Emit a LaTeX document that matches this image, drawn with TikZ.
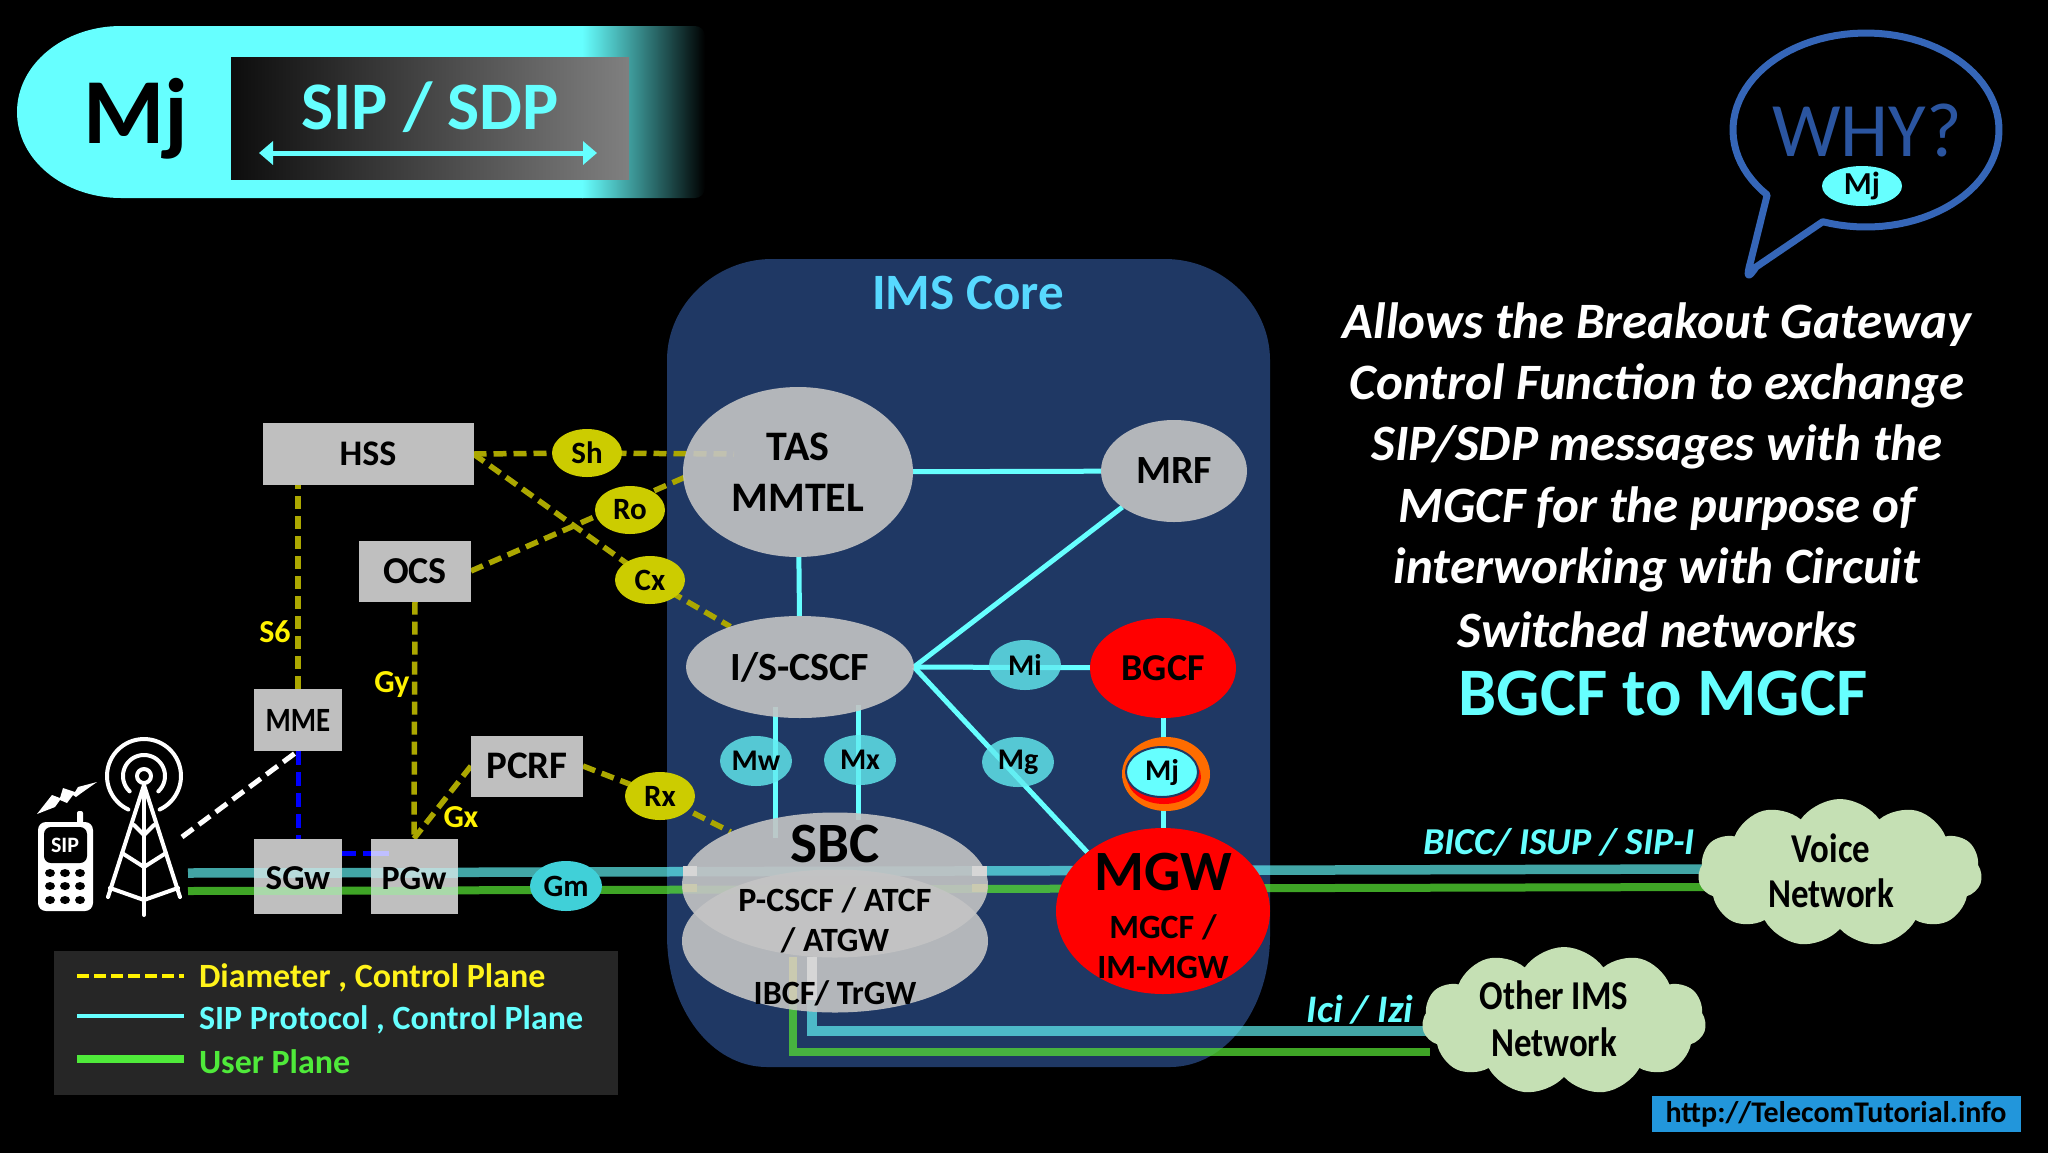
\documentclass[tikz,border=0pt]{standalone}
\usepackage{fontspec}
\setmainfont{Carlito}
\newfontfamily\narrowfont[FakeStretch=0.85]{Carlito}
\usetikzlibrary{shapes.geometric,shapes.symbols,arrows.meta,backgrounds,calc}
\newcommand{\fs}[1]{\fontsize{#1}{#1}\selectfont\bfseries}
\newcommand{\fsl}[2]{\fontsize{#1}{#2}\selectfont\bfseries}
\definecolor{sipcyan}{HTML}{66FFFF}
\definecolor{navypanel}{HTML}{1F3864}
\definecolor{boxgray}{HTML}{BFBFBF}
\definecolor{ovalgray}{HTML}{C4C4C4}
\definecolor{diamolive}{HTML}{ABA700}
\definecolor{yellowoval}{HTML}{CCCC00}
\definecolor{tealoval}{HTML}{63ECF0}
\definecolor{gmteal}{HTML}{40D0D8}
\definecolor{planegreen}{HTML}{55DD33}
\definecolor{cloudgreen}{HTML}{C5E0B4}
\definecolor{whyblue}{HTML}{3566B8}
\definecolor{whytext}{HTML}{2B55A0}
\begin{document}
\begin{tikzpicture}[
    x=1pt, y=-1pt,
    every node/.style={inner sep=0pt, outer sep=0pt, text=black},
    gbox/.style={rectangle, fill=boxgray, font=\fs{36}},
    goval/.style={ellipse, fill=ovalgray, fill opacity=0.9, text opacity=1, font=\fsl{42}{51}, align=center},
    redoval/.style={ellipse, fill=red},
    yoval/.style={ellipse, fill=yellowoval, minimum width=70, minimum height=48, font=\fs{31}},
    toval/.style={ellipse, fill=tealoval, fill opacity=0.8, text opacity=1, minimum width=72, minimum height=50, font=\fs{30}},
    netcloud/.style={cloud, fill=cloudgreen, cloud puffs=11, cloud puff arc=110},
    ifname/.style={text=yellow, font=\fs{32}},
    sideline/.style={text=white, font=\fontsize{51}{51}\selectfont\bfseries\itshape},
    legendtext/.style={anchor=west, font=\fs{34}},
    diam/.style={diamolive, line width=5.5pt, dash pattern=on 13pt off 7pt},
    siplink/.style={sipcyan, line width=5pt},
    sipband/.style={sipcyan, opacity=0.65, line width=9.5pt},
    greenband/.style={planegreen, opacity=0.75, line width=8pt},
    paleup/.style={draw=white!72!teal, line width=9.5pt},
    palelow/.style={draw=white!78!green!85!black, line width=8pt},
    icon/.style={white, line width=4pt, line cap=round, line join=round}
]
\useasboundingbox (0,0) rectangle (2048,1152);

% Header
\fill[sipcyan] (121,198) .. controls (64,198) and (17,160) .. (17,112) .. controls (17,64) and (64,26) .. (121,26) -- (583,26) -- (583,198) -- cycle;
\shade[left color=sipcyan, right color=black] (582,26) [rounded corners=10pt] -- (705,26) -- (705,198) [sharp corners] -- (582,198) -- cycle;
\shade[left color=black!95, right color=black!50] (231,57) rectangle (629,179);
\node[font=\fs{93}] (mjtitle) at (136,119) {Mj};
\node[text=sipcyan, font=\fs{68}] (siptitle) at (430,107) {SIP / SDP};
\coordinate (headleft) at (259,153);
\coordinate (headright) at (597,153);
\draw[sipcyan, line width=5pt, {Triangle[length=14pt,width=23pt]}-{Triangle[length=14pt,width=23pt]}] (headleft) -- (headright);

% Speech bubble
\draw[whyblue, line width=7pt, line join=round] (1756,267) -- plot[domain=109:-222, samples=90] ({1866+133*cos(\x)},{130+97*sin(\x)}) -- (1750.5,262) .. controls (1746,278) and (1748,279) .. (1756,267) -- cycle;
\node[text=whytext, font=\fontsize{77}{77}\selectfont] (why) at (1867,130) {WHY?};
\node[ellipse, fill=sipcyan, minimum width=80, minimum height=40, font=\fs{32}] (whymj) at (1862,186) {Mj};

% Explanation
\node[sideline] (ex1) at (1657,325) {Allows the Breakout Gateway};
\node[sideline] (ex2) at (1657,386) {Control Function to exchange};
\node[sideline] (ex3) at (1657,447) {SIP/SDP messages with the};
\node[sideline] (ex4) at (1657,509) {MGCF for the purpose of};
\node[sideline] (ex5) at (1657,570) {interworking with Circuit};
\node[sideline] (ex6) at (1657,630) {Switched networks};
\node[text=sipcyan, font=\fs{68}] (ex7) at (1663,693) {BGCF to MGCF};

% IMS core nodes
\node[text=sipcyan!85!blue, font=\fs{51}] (imscore) at (968,293) {IMS Core};
\node[goval, minimum width=230, minimum height=170] (tas) at (798,472) {TAS\\MMTEL};
\node[goval, minimum width=146, minimum height=102, font=\fs{40}] (mrf) at (1174,471) {MRF};
\node[goval, minimum width=228, minimum height=102, font=\fs{40}] (iscscf) at (800,667) {I/S-CSCF};
\node[redoval, minimum width=146, minimum height=100, font=\fs{38}] (bgcf) at (1163,668) {BGCF};
\node[goval, minimum width=306, minimum height=143] (sbclow) at (835,941) {};
\node[goval, minimum width=306, minimum height=145] (sbcup) at (835,885) {};
\node[redoval, minimum width=214, minimum height=166] (mgw) at (1163,911) {};

% Pale ends of the bands on the SBC
\draw[line width=9.5pt, draw=white!30!ovalgray] (683,871) -- ++(14,0);
\draw[line width=8pt, draw=ovalgray!90!yellow] (683,888) -- ++(14,0);
\draw[line width=9.5pt, draw=white!30!ovalgray] (972,871) -- ++(15,0);
\draw[line width=8pt, draw=ovalgray!90!yellow] (972,888) -- ++(15,0);
\draw[line width=9.5pt, draw=white!30!ovalgray] (812,957) -- (812,1000);
\draw[line width=8pt, draw=ovalgray!90!yellow] (793,957) -- (793,1000);
\node[font=\fs{57}] (sbctitle) at (835,844) {SBC};
\node[font=\fsl{34}{40}, align=center] (sbcsub) at (835,920) {P-CSCF / ATCF\\/ ATGW};
\node[font=\fs{34}] (sbcibcf) at (835,993) {IBCF/ TrGW};
\node[font=\fs{57}] (mgwtitle) at (1163,872) {MGW};
\node[font=\fsl{34}{40}, align=center] (mgwsub) at (1163,947) {MGCF /\\IM-MGW};

% Interface ovals
\node[toval] (mi) at (1025,665) {Mi};
\node[toval] (mw) at (756,761) {Mw};
\node[toval] (mx) at (860,760) {Mx};
\node[toval] (mg) at (1018,762) {Mg};
\node[ellipse, fill=orange!85!red, minimum width=88, minimum height=74] (mjring) at (1166,774) {};
\node[ellipse, fill=red, minimum width=74, minimum height=54] (mjred) at (1164,777) {};
\node[ellipse, draw=navypanel, line width=2pt, fill=sipcyan, minimum width=72, minimum height=50, font=\fs{30}] (mj) at (1162,772) {Mj};
\node[yoval] (sh) at (587,453) {Sh};
\node[yoval] (ro) at (630,510) {Ro};
\node[yoval] (cx) at (650,580) {Cx};
\node[yoval] (rx) at (660,796) {Rx};
\node[ellipse, fill=gmteal, minimum width=72, minimum height=50, font=\fs{31}] (gm) at (566,886) {Gm};

% EPC boxes
\node[gbox, minimum width=211, minimum height=62] (hss) at (368,454) {HSS};
\node[gbox, minimum width=112, minimum height=61, font=\fs{38}] (ocs) at (415,571) {OCS};
\node[gbox, minimum width=88, minimum height=62, font=\narrowfont\fs{34}] (mme) at (298,720) {MME};
\node[gbox, minimum width=112, minimum height=61, font=\fs{39}] (pcrf) at (527,766) {PCRF};
\node[gbox, minimum width=88, minimum height=75] (sgw) at (298,876) {};
\node[gbox, minimum width=87, minimum height=75] (pgw) at (414,876) {};

% Clouds
\node[netcloud, minimum width=284, minimum height=148] (voice) at (1840,873) {};
\node[netcloud, minimum width=284, minimum height=148] (otherims) at (1564,1021) {};
\node[font=\narrowfont\fsl{41}{45}, align=center] (voicetext) at (1831,871) {Voice\\Network};
\node[font=\narrowfont\fsl{41}{47}, align=center] (othertext) at (1554,1019) {Other IMS\\Network};

% Free ends
\coordinate (ranup) at (188,873);
\coordinate (ranlow) at (188,891);
\coordinate (voiceup) at (1710,869);
\coordinate (voicelow) at (1710,887);
\coordinate (ibcfup) at (812,957);
\coordinate (ibcflow) at (793,957);
\coordinate (otherup) at (1440,1031);
\coordinate (otherlow) at (1430,1052);
\coordinate (tasin) at (734,454);
\coordinate (tasro) at (690,475);
\coordinate (hssdrop) at (298,471);
\coordinate (mwtop) at (775,707);
\coordinate (mwbot) at (775,838);
\coordinate (mxtop) at (858,705);
\coordinate (mxbot) at (858,820);
\coordinate (antenna) at (182,837);

% Links, behind the nodes
\begin{scope}[on background layer]
\fill[black] (-5,-5) rectangle (2053,1157);
\fill[navypanel] (667,360) .. controls (667,305) and (715,259) .. (772,259) -- (1165,259) .. controls (1222,259) and (1270,305) .. (1270,360) -- (1270,935) .. controls (1270,1010) and (1225,1067) .. (1170,1067) -- (767,1067) .. controls (712,1067) and (667,1010) .. (667,935) -- cycle;
\draw[sipband] (ranup) -- (voiceup);
\draw[greenband] (ranlow) -- (voicelow);
\draw[sipband] (ibcfup) |- (otherup);
\draw[greenband] (ibcflow) |- (otherlow);
\draw[siplink] (tas) -- (mrf);
\draw[siplink] (tas) -- (iscscf);
\draw[siplink] (iscscf.east) -- (mrf.south west);
\draw[siplink] (iscscf.east) -- (bgcf);
\draw[siplink] (iscscf.east) -- (mgw.north west);
\draw[siplink] (mwtop) -- (mwbot);
\draw[siplink] (mxtop) -- (mxbot);
\draw[siplink] (bgcf) -- (mgw);
\draw[diam] (hss.east) -- (sh.center) -- (tasin);
\draw[diam] (hss.east) -- (cx.center) -- (iscscf);
\draw[diam] (ocs.east) -- (tasro);
\draw[diam] (pcrf.east) -- (rx.center) -- (sbcup);
\draw[diam] (mme.north) -- (hssdrop);
\draw[diam] (ocs.south) -- (pgw.north);
\draw[diam] (pcrf.west) -- (pgw.north);
\draw[white, line width=5pt, dash pattern=on 14pt off 7pt] (antenna) -- (mme.south);
\draw[blue, line width=5pt, dash pattern=on 14pt off 7pt] (mme.south) -- (sgw.north);
\end{scope}

% Pale crossings over the boxes
\draw[paleup] (sgw.west |- ranup) -- (sgw.east |- ranup);
\draw[palelow] (sgw.west |- ranlow) -- (sgw.east |- ranlow);
\draw[paleup] (pgw.west |- ranup) -- (pgw.east |- ranup);
\draw[palelow] (pgw.west |- ranlow) -- (pgw.east |- ranlow);
\draw[blue, line width=5pt, dash pattern=on 14pt off 7pt] (sgw.east |- 0,853) -- (pgw.west |- 0,853);
\draw[blue!25, line width=5pt] (pgw.west |- 0,853) -- ++(18,0);
\node[font=\fs{35}] (sgwtext) at (298,878) {SGw};
\node[font=\fs{34}] (pgwtext) at (414,878) {PGw};

% Interface names
\node[ifname] (s6) at (275,632) {S6};
\node[ifname] (gy) at (392,685) {Gy};
\node[ifname] (gx) at (461,817) {Gx};
\node[text=sipcyan, font=\fontsize{38}{38}\selectfont\bfseries\itshape] (bicc) at (1559,842) {BICC/ ISUP / SIP-I};
\node[text=sipcyan, font=\fontsize{39}{39}\selectfont\bfseries\itshape] (ici) at (1360,1010) {Ici / Izi};

% Legend
\fill[black!85] (54,951) rectangle (618,1095);
\coordinate (legda) at (77,976);
\coordinate (legdb) at (184,976);
\coordinate (legsa) at (77,1016);
\coordinate (legsb) at (184,1016);
\coordinate (legga) at (77,1059);
\coordinate (leggb) at (184,1059);
\draw[yellow, line width=4pt, dash pattern=on 12pt off 5pt] (legda) -- (legdb);
\draw[sipcyan, line width=4pt] (legsa) -- (legsb);
\draw[planegreen!70!green!90!white, line width=8pt] (legga) -- (leggb);
\node[legendtext, text=yellow!90!white] (legd) at (199,978) {Diameter , Control Plane};
\node[legendtext, text=sipcyan] (legs) at (199,1020) {SIP Protocol , Control Plane};
\node[legendtext, text=planegreen!70!green!90!white] (legg) at (199,1062) {User Plane};

% Website
\node[rectangle, fill=cyan!75!blue!90!white, minimum width=369, minimum height=36, font=\fs{30}] (url) at (1836,1114) {http://TelecomTutorial.info};

% Phone
\fill[white, rounded corners=8pt] (38,822) rectangle (93,911);
\fill[white, rounded corners=2pt] (77,811) rectangle (83,825);
\fill[black, rounded corners=7pt] (44,827) rectangle (87,863);
\node[text=white, font=\fs{22}] (siptext) at (65,845) {SIP};
\foreach \kx in {50,65,80}{
    \foreach \ky in {873,886,900}{
        \fill[black] (\kx,\ky) ellipse [x radius=5pt, y radius=4pt];
    }
}
\fill[white] (37,814) -- (52,795) -- (60,798) -- (63,788) -- (75,792) -- (78,787) -- (97,782) -- (80,794) -- (76,797) -- (73,795) -- (67,803) -- (60,800) -- (55,807) -- cycle;

% Tower
\draw[icon] (144,776) circle [radius=7pt];
\draw[icon] plot[domain=133:407, samples=50] ({144+21*cos(\x)},{776+21*sin(\x)});
\draw[icon] plot[domain=115:425, samples=60] ({144+37*cos(\x)},{776+37*sin(\x)});
\draw[icon] (108,897) -- (144,785) -- (180,897);
\draw[icon] (144,785) -- (144,915);
\draw[icon] (110,888) -- (144,900) -- (178,888);
\draw[icon] (122,853) -- (144,867) -- (166,853);
\draw[icon] (134,825) -- (144,835) -- (154,825);
\end{tikzpicture}
\end{document}
